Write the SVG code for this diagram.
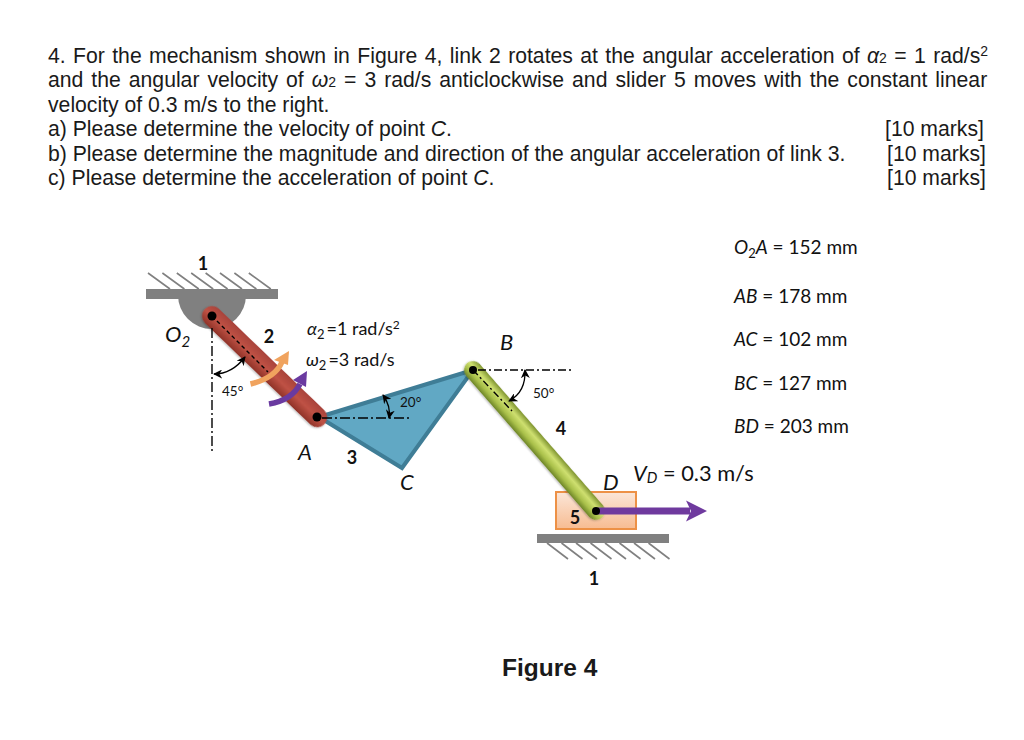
<svg xmlns="http://www.w3.org/2000/svg" width="1024" height="740" viewBox="0 0 1024 740">
<style>
.q{font-family:"Liberation Sans",Arial,sans-serif;font-size:21.2px;fill:#1a1a1a}
.d{font-family:Lato,"Open Sans",sans-serif;fill:#111}
.b{font-weight:700;font-size:18px;text-anchor:middle}
.i{font-style:italic}
.r{font-size:19px}
.s{font-size:13.500px}
.h{stroke:#808080;stroke-width:1.6;fill:none}
.c{stroke:#000;stroke-width:1.4;fill:none}
.a{stroke:#000;stroke-width:1.3;fill:none;marker-start:url(#t);marker-end:url(#t)}
</style>
<defs>
<marker id="t" viewBox="0 0 10 10" refX="9" refY="5" markerWidth="9" markerHeight="9" markerUnits="userSpaceOnUse" orient="auto-start-reverse"><path d="M0 0L10 5L0 10L3 5Z" fill="#000"/></marker>
<linearGradient id="red" x1="0" y1="0" x2="0" y2="1"><stop offset="0" stop-color="#a8423a"/><stop offset=".5" stop-color="#bf5245"/><stop offset="1" stop-color="#8f3228"/></linearGradient>
<linearGradient id="grn" x1="0" y1="0" x2="0" y2="1"><stop offset="0" stop-color="#7f9430"/><stop offset=".35" stop-color="#cfe070"/><stop offset=".7" stop-color="#a9c04a"/><stop offset="1" stop-color="#6d8426"/></linearGradient>
<linearGradient id="org" x1="0" y1="0" x2="0" y2="1"><stop offset="0" stop-color="#fbe6d8"/><stop offset="1" stop-color="#f7bc92"/></linearGradient>
<filter id="sh" x="-10%" y="-30%" width="120%" height="160%"><feDropShadow dx="0" dy="1" stdDeviation="1" flood-color="#000" flood-opacity=".3"/></filter>
</defs>
<g id="question">
<text class="q" x="48" y="62.500" word-spacing="1.500">4. For the mechanism shown in Figure 4, link 2 rotates at the angular acceleration of <tspan font-style="italic">α</tspan><tspan font-size="14">2</tspan> = 1 rad/s<tspan font-size="14" dy="-7">2</tspan></text>
<text class="q" x="48" y="86.500" word-spacing="2.100">and the angular velocity of <tspan font-style="italic">ω</tspan><tspan font-size="14">2</tspan> = 3 rad/s anticlockwise and slider 5 moves with the constant linear</text>
<text class="q" x="48" y="111.500">velocity of 0.3 m/s to the right.</text>
<text class="q" x="48" y="135.500">a) Please determine the velocity of point <tspan font-style="italic">C</tspan>.</text>
<text class="q" x="48" y="160.500">b) Please determine the magnitude and direction of the angular acceleration of link 3.</text>
<text class="q" x="48" y="184.500">c) Please determine the acceleration of point <tspan font-style="italic">C</tspan>.</text>
<text class="q" x="885" y="135.500">[10 marks]</text>
<text class="q" x="887" y="160.500">[10 marks]</text>
<text class="q" x="887" y="184.500">[10 marks]</text>
</g>
<g id="ground-top">
<path d="M178 295A34 34 0 0 0 246 295Z" fill="#808080"/>
<rect x="146" y="289" width="132" height="10" fill="#808080"/>
<path class="h" d="M148 273l22 16M162.400 273l22 16M176.800 273l22 16M191.200 273l22 16M205.600 273l22 16M220 273l22 16M234.400 273l22 16M248.800 273l22 16"/>
<text class="d b" x="203" y="270">1</text>
</g>
<g id="ground-bottom">
<rect x="537" y="534" width="132" height="9" fill="#808080"/>
<path class="h" d="M547 543l21 16M561.500 543l21 16M576 543l21 16M590.500 543l21 16M605 543l21 16M619.500 543l21 16M634 543l21 16M648.500 543l21 16"/>
<text class="d b" x="594" y="585">1</text>
</g>
<g id="slider-5">
<rect x="556" y="492" width="80" height="37" fill="url(#org)" stroke="#ed9146" stroke-width="2"/>
<text class="d b" x="575" y="524">5</text>
</g>
<g id="link-3">
<path d="M319 417L473 370L402 468Z" fill="#61a8c4" stroke="#3f7d96" stroke-width="4" stroke-linejoin="miter"/>
<text class="d b" x="352" y="464">3</text>
</g>
<g id="link-4">
<rect x="-9" y="-9" width="205" height="18" rx="9" fill="url(#grn)" filter="url(#sh)" transform="translate(473 370) rotate(48.9)"/>
<text class="d b" x="561" y="435">4</text>
</g>
<g id="link-2">
<rect x="-10" y="-10" width="166" height="20" rx="10" fill="url(#red)" filter="url(#sh)" transform="translate(212 316) rotate(43.9)"/>
<text class="d b" x="269" y="343">2</text>
</g>
<g id="connectors">
<path class="c" stroke-dasharray="4 3" d="M212 316L268 372"/>
<path class="c" stroke-dasharray="10 3 2 3" d="M212 328V452"/>
<path class="c" stroke-width="1.6" stroke-dasharray="10 3 2 3" d="M322 418H412"/>
<path class="c" stroke-dasharray="8 3 2 3" d="M478 370H572"/>
<path class="c" stroke-dasharray="7 3 2 3" d="M473 370L512 411"/>
<path class="a" d="M214 374Q232 374 245 357"/>
<path class="a" d="M383 395Q391 406 389 418"/>
<path class="a" d="M509 401Q526 392 525 370"/>
<path d="M250.500 384Q275 378 282 362" fill="none" stroke="#f0a35e" stroke-width="5.500"/>
<path d="M274 360L289 351L288 365Z" fill="#f0a35e"/>
<path d="M269 404Q292 400 300 384" fill="none" stroke="#6a3aa0" stroke-width="5.500"/>
<path d="M293 380L307 371L306 387Z" fill="#6a3aa0"/>
<path d="M598 511H690" stroke="#6f3a9e" stroke-width="7" fill="none"/>
<path d="M686 500.500L707 511L686 521.500L691 511Z" fill="#6f3a9e"/>
<circle cx="212" cy="316" r="4.500" fill="#000"/>
<circle cx="317" cy="417" r="4.500" fill="#000"/>
<circle cx="473" cy="370" r="4" fill="#000"/>
<circle cx="596" cy="511" r="4" fill="#000"/>
</g>
<g id="labels">
<text class="d i" x="165" y="342" font-size="22">O<tspan font-size="15" dy="5">2</tspan></text>
<text class="d i" x="298" y="460" font-size="22">A</text>
<text class="d i" x="400" y="490" font-size="22">C</text>
<text class="d i" x="500" y="350" font-size="22">B</text>
<text class="d i" x="603" y="490" font-size="22">D</text>
<text class="d s" x="222" y="396">45°</text>
<text class="d s" x="400" y="407">20°</text>
<text class="d s" x="533" y="398">50°</text>
<text class="d" x="307" y="335" font-size="18"><tspan font-style="italic">α</tspan><tspan font-size="13" dy="4">2</tspan><tspan dy="-4" dx="2">=1 rad/s</tspan><tspan font-size="12" dy="-6">2</tspan></text>
<text class="d" x="306" y="366" font-size="18"><tspan font-style="italic">ω</tspan><tspan font-size="13" dy="4">2</tspan><tspan dy="-4" dx="2">=3 rad/s</tspan></text>
<text class="d" x="633" y="481" font-size="21.800"><tspan font-style="italic">V</tspan><tspan font-style="italic" font-size="15" dy="2">D</tspan><tspan dy="-2"> = 0.3 m/s</tspan></text>
<text class="d r" x="734" y="254"><tspan font-style="italic">O</tspan><tspan font-size="13" dy="4">2</tspan><tspan font-style="italic" dy="-4">A</tspan> = 152 mm</text>
<text class="d r" x="734" y="303"><tspan font-style="italic">AB</tspan> = 178 mm</text>
<text class="d r" x="734" y="346"><tspan font-style="italic">AC</tspan> = 102 mm</text>
<text class="d r" x="734" y="390"><tspan font-style="italic">BC</tspan> = 127 mm</text>
<text class="d r" x="734" y="433"><tspan font-style="italic">BD</tspan> = 203 mm</text>
</g>
<text id="caption" x="502" y="676" font-family="Liberation Sans,Arial,sans-serif" font-size="24.500" font-weight="700" fill="#1a1a1a">Figure 4</text>
</svg>
